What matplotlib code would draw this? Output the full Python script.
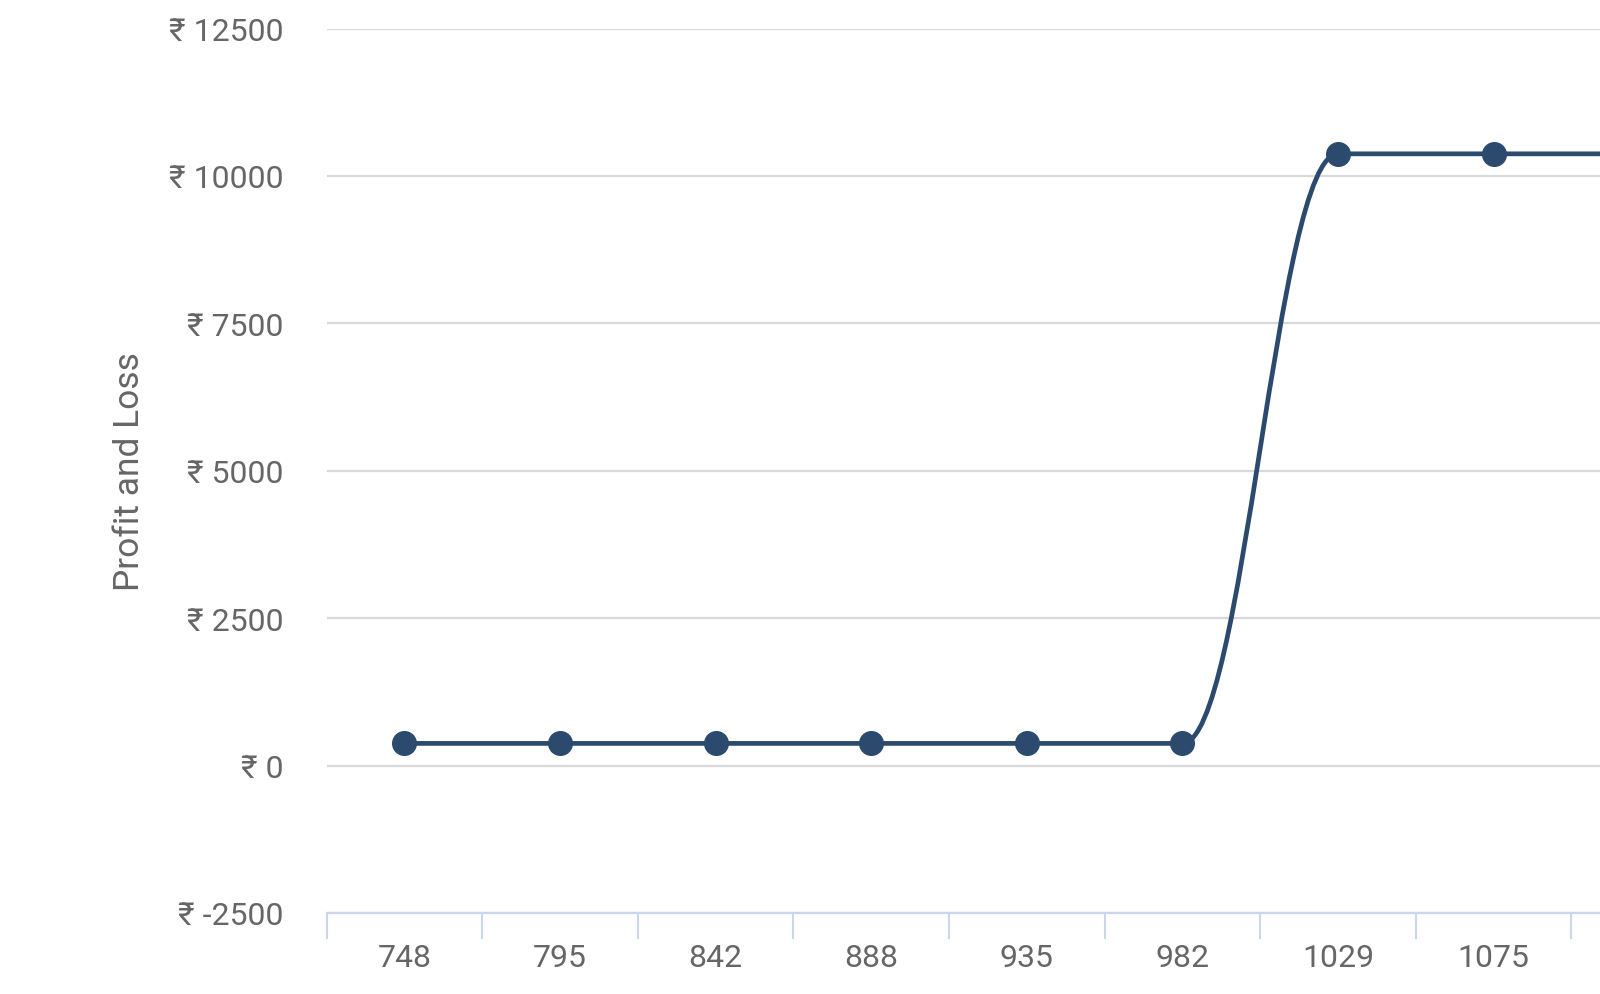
import numpy as np
import matplotlib
matplotlib.use('Agg')
import matplotlib.pyplot as plt
from matplotlib.path import Path
from matplotlib.patches import PathPatch
from matplotlib.ticker import FixedLocator, FuncFormatter

# strike prices (last one runs off the right edge of the chart)
strike_prices = ['748', '795', '842', '888', '935', '982', '1029', '1075', '1122']
profit_loss = [375, 375, 375, 375, 375, 375, 10375, 10375, 10375]
y_ticks = [-2500, 0, 2500, 5000, 7500, 10000, 12500]

LINE = '#2c4a6d'
TEXT = '#666666'
GRID = '#d9d9d9'
AXIS = '#ccd6eb'
FONT = ['Roboto', 'Noto Sans', 'DejaVu Sans']

plt.rcParams['font.family'] = FONT


def spline_path(xs, ys, smoothing=1.5):
    # same control point rule as a highcharts "spline" series
    n = len(xs)
    left = [None] * n
    right = [None] * n
    for i in range(1, n - 1):
        x, y = xs[i], ys[i]
        py, ny = ys[i - 1], ys[i + 1]
        lx = (smoothing * x + xs[i - 1]) / (smoothing + 1)
        ly = (smoothing * y + py) / (smoothing + 1)
        rx = (smoothing * x + xs[i + 1]) / (smoothing + 1)
        ry = (smoothing * y + ny) / (smoothing + 1)
        if rx != lx:
            corr = (ry - ly) * (rx - x) / (rx - lx) + y - ry
            ly += corr
            ry += corr
        if ly > py and ly > y:
            ly = max(py, y)
            ry = 2 * y - ly
        elif ly < py and ly < y:
            ly = min(py, y)
            ry = 2 * y - ly
        if ry > ny and ry > y:
            ry = max(ny, y)
            ly = 2 * y - ry
        elif ry < ny and ry < y:
            ry = min(ny, y)
            ly = 2 * y - ry
        left[i] = (lx, ly)
        right[i] = (rx, ry)

    verts = [(xs[0], ys[0])]
    codes = [Path.MOVETO]
    for i in range(1, n):
        c1 = right[i - 1] or (xs[i - 1], ys[i - 1])
        c2 = left[i] or (xs[i], ys[i])
        verts += [c1, c2, (xs[i], ys[i])]
        codes += [Path.CURVE4] * 3
    return Path(verts, codes)


x = np.arange(len(strike_prices))

fig = plt.figure(figsize=(16, 9.95), dpi=100)
ax = fig.add_axes([0.2041, 0.0815, 0.7959, 0.8888])

ax.add_patch(PathPatch(spline_path(list(x), profit_loss), facecolor='none',
                       edgecolor=LINE, lw=3.4, zorder=3, capstyle='round'))
ax.plot(x, profit_loss, ls='none', marker='o', ms=17, color=LINE, zorder=4)

ax.set_yticks(y_ticks)
ax.yaxis.set_major_formatter(FuncFormatter(lambda v, p: '₹ %d' % v))
ax.tick_params(axis='y', length=0, pad=31, labelsize=23, labelcolor=TEXT)
ax.yaxis.grid(True, color=GRID, lw=1.6)
ax.set_axisbelow(True)

ax.set_xticks(x)
ax.set_xticklabels(strike_prices)
ax.xaxis.set_minor_locator(FixedLocator(np.arange(-0.5, len(strike_prices), 1.0)))
ax.tick_params(axis='x', which='major', length=0, pad=21.5, labelsize=23, labelcolor=TEXT)
ax.tick_params(axis='x', which='minor', length=18.5, width=1.5, color=AXIS, direction='out')

# limits last, set_xticks would widen them
ax.set_xlim(-0.5, 7.684)
ax.set_ylim(-2500, 12500)

for side in ['top', 'right', 'left']:
    ax.spines[side].set_visible(False)
ax.spines['bottom'].set_color(AXIS)
ax.spines['bottom'].set_linewidth(1.6)

ax.set_ylabel('Profit and Loss', fontsize=25.5, color=TEXT)
ax.yaxis.set_label_coords(-0.1417, 0.5)

fig.savefig('out.png', dpi=100)
